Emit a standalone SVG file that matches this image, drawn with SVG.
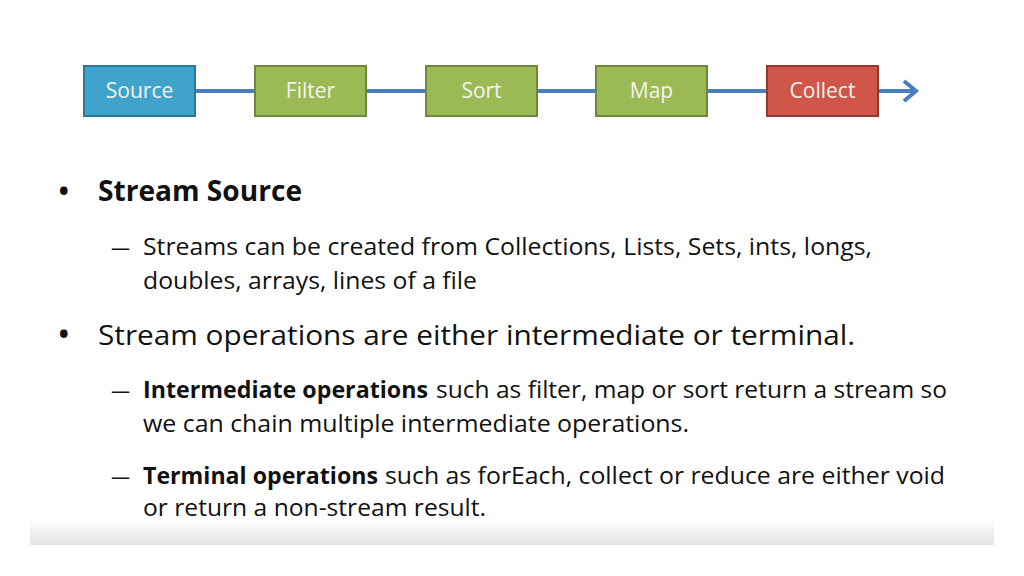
<svg xmlns="http://www.w3.org/2000/svg" width="1024" height="576" viewBox="0 0 1024 576">
<defs>
<style>
.box{stroke-width:2}
.lbl{font-family:"Open Sans","DejaVu Sans",sans-serif;font-size:21px;fill:#f4f4ee;text-anchor:middle}
.t{font-family:"Open Sans","DejaVu Sans",sans-serif;fill:#111}
.b{font-weight:bold}
.conn{stroke:#4a7fbf;stroke-width:4;fill:none}
</style>
<linearGradient id="bar" x1="0" y1="0" x2="0" y2="1">
<stop offset="0" stop-color="#ffffff"/>
<stop offset="1" stop-color="#e2e2e2"/>
</linearGradient>
</defs>
<rect width="1024" height="576" fill="#ffffff"/>
<rect x="30" y="519" width="964" height="26" fill="url(#bar)"/>

<g id="connectors">
<line class="conn" x1="195" y1="91" x2="254" y2="91"/>
<line class="conn" x1="366" y1="91" x2="425" y2="91"/>
<line class="conn" x1="537" y1="91" x2="595" y2="91"/>
<line class="conn" x1="707" y1="91" x2="766" y2="91"/>
<line class="conn" x1="878" y1="91" x2="915" y2="91"/>
<path d="M904 81 L916 91 L904 101" fill="none" stroke="#4a7fbf" stroke-width="4"/>
</g>

<g id="node-source">
<rect class="box" x="84" y="66" width="111" height="50" fill="#3fa3cb" stroke="#2d7895"/>
<text class="lbl" x="139.5" y="98">Source</text>
</g>
<g id="node-filter">
<rect class="box" x="255" y="66" width="111" height="50" fill="#9bb955" stroke="#6f873c"/>
<text class="lbl" x="310.5" y="98">Filter</text>
</g>
<g id="node-sort">
<rect class="box" x="426" y="66" width="111" height="50" fill="#9bb955" stroke="#6f873c"/>
<text class="lbl" x="481.5" y="98">Sort</text>
</g>
<g id="node-map">
<rect class="box" x="596" y="66" width="111" height="50" fill="#9bb955" stroke="#6f873c"/>
<text class="lbl" x="651.5" y="98">Map</text>
</g>
<g id="node-collect">
<rect class="box" x="767" y="66" width="111" height="50" fill="#cf5648" stroke="#8e3a33"/>
<text class="lbl" x="822.5" y="98">Collect</text>
</g>

<g id="bullets">
<text class="t" x="57" y="204" font-size="36">•</text>
<text class="t b" x="98" y="201" font-size="28" textLength="204" lengthAdjust="spacingAndGlyphs">Stream Source</text>
<text class="t" x="111" y="255" font-size="22" textLength="19" lengthAdjust="spacingAndGlyphs">—</text>
<text class="t" x="143" y="255" font-size="23" textLength="729" lengthAdjust="spacingAndGlyphs">Streams can be created from Collections, Lists, Sets, ints, longs,</text>
<text class="t" x="143" y="289" font-size="23" textLength="334" lengthAdjust="spacingAndGlyphs">doubles, arrays, lines of a file</text>

<text class="t" x="57" y="347" font-size="36">•</text>
<text class="t" x="98" y="345" font-size="28" textLength="757" lengthAdjust="spacingAndGlyphs">Stream operations are either intermediate or terminal.</text>

<text class="t" x="111" y="398" font-size="22" textLength="19" lengthAdjust="spacingAndGlyphs">—</text>
<text class="t b" x="143" y="398" font-size="23" textLength="285" lengthAdjust="spacingAndGlyphs">Intermediate operations</text>
<text class="t" x="436" y="398" font-size="23" textLength="511" lengthAdjust="spacingAndGlyphs">such as filter, map or sort return a stream so</text>
<text class="t" x="143" y="432" font-size="23" textLength="546" lengthAdjust="spacingAndGlyphs">we can chain multiple intermediate operations.</text>

<text class="t" x="111" y="484" font-size="22" textLength="19" lengthAdjust="spacingAndGlyphs">—</text>
<text class="t b" x="143" y="484" font-size="23" textLength="235" lengthAdjust="spacingAndGlyphs">Terminal operations</text>
<text class="t" x="385" y="484" font-size="23" textLength="560" lengthAdjust="spacingAndGlyphs">such as forEach, collect or reduce are either void</text>
<text class="t" x="143" y="516" font-size="23" textLength="343" lengthAdjust="spacingAndGlyphs">or return a non-stream result.</text>
</g>
</svg>
